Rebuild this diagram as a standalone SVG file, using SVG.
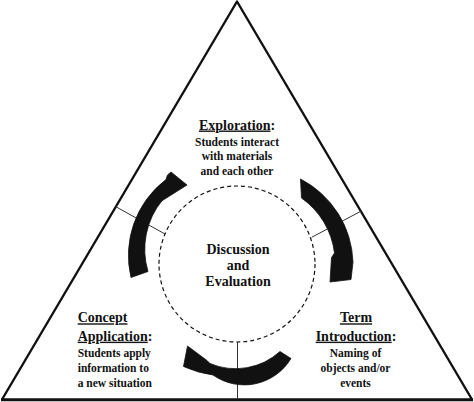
<svg xmlns="http://www.w3.org/2000/svg" width="474" height="402" viewBox="0 0 474 402">
<style>
.t{font-family:"Liberation Serif","Times New Roman",serif;font-weight:bold;fill:#111}
.h{font-size:14px}
.b{font-size:11.5px}
.sep{stroke:#333;stroke-width:1;fill:none}
.arw{fill:#111;stroke:#111;stroke-width:0.8;stroke-linejoin:miter}
</style>
<rect width="474" height="402" fill="#fff"/>
<g id="frame">
<polyline points="2,399.5 237,1.5 472,399.5" fill="none" stroke="#111" stroke-width="2.4" stroke-linejoin="round"/>
<line x1="1" y1="399.8" x2="473" y2="399.8" stroke="#111" stroke-width="3"/>
</g>
<g id="separators">
<line class="sep" x1="115.5" y1="206.5" x2="165" y2="234"/>
<line class="sep" x1="361.3" y1="211" x2="311.7" y2="237.3"/>
<line class="sep" x1="237.5" y1="342" x2="237.5" y2="399"/>
</g>
<g id="discussion-evaluation">
<circle cx="237" cy="264" r="78" fill="none" stroke="#111" stroke-width="1.2" stroke-dasharray="4 3"/>
<text class="t h" text-anchor="middle" x="238" y="254">Discussion</text>
<text class="t h" text-anchor="middle" x="238" y="270">and</text>
<text class="t h" text-anchor="middle" x="238" y="286">Evaluation</text>
</g>
<g id="exploration">
<text class="t h" text-anchor="middle" x="237" y="129.5"><tspan text-decoration="underline">Exploration</tspan>:</text>
<text class="t b" text-anchor="middle" x="237" y="145.7">Students interact</text>
<text class="t b" text-anchor="middle" x="237" y="160">with materials</text>
<text class="t b" text-anchor="middle" x="237" y="174.5">and each other</text>
</g>
<g id="term-introduction">
<text class="t h" text-anchor="middle" x="356" y="322.3"><tspan text-decoration="underline">Term</tspan></text>
<text class="t h" text-anchor="middle" x="356" y="340.7"><tspan text-decoration="underline">Introduction</tspan>:</text>
<text class="t b" text-anchor="middle" x="355.5" y="356.7">Naming of</text>
<text class="t b" text-anchor="middle" x="355.5" y="371.7">objects and/or</text>
<text class="t b" text-anchor="middle" x="355.5" y="386.7">events</text>
</g>
<g id="concept-application">
<text class="t h" x="77.7" y="322.3"><tspan text-decoration="underline">Concept</tspan></text>
<text class="t h" x="77.7" y="340.7"><tspan text-decoration="underline">Application</tspan>:</text>
<text class="t b" x="77.7" y="356.7">Students apply</text>
<text class="t b" x="77.7" y="371.7">information to</text>
<text class="t b" x="77.7" y="386.7">a new situation</text>
</g>
<g id="connectors">
<path class="arw" d="M148,271.5 L131,277.5 A95.5,95.5 0 0 1 166,179.5 L167.5,175 L171,172 L187,185 L160,202 L162.5,200 A77.5,77.5 0 0 0 148,271.5 Z"/>
<path class="arw" d="M300.5,179 A97,97 0 0 1 353,262 L351,279.5 L330,282 L331.5,257.5 L334.5,253 A79,79 0 0 0 301.5,198 Z"/>
<path class="arw" d="M280,351.5 L291,358.5 A54.5,54.5 0 0 1 213,375 Q198,373 183.5,366.5 L187.5,346 L207,360.5 L210,363.5 A66,66 0 0 0 280,351.5 Z"/>
</g>
</svg>
